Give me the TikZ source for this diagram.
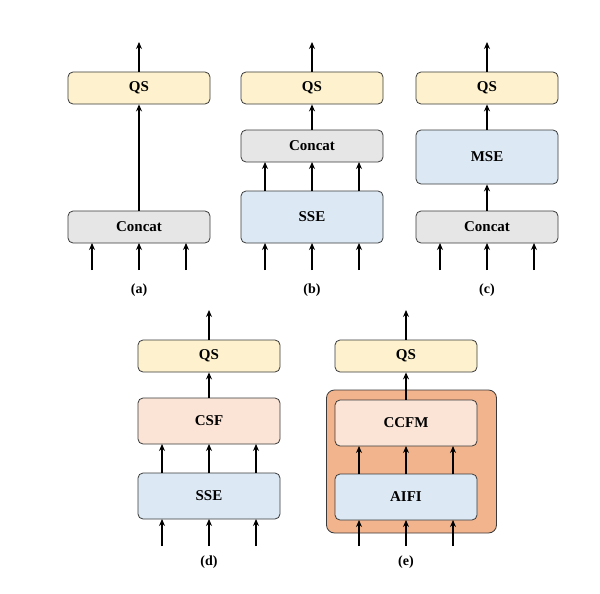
\documentclass[tikz,border=0pt]{standalone}
\usepackage{fontspec}
\setmainfont{Liberation Serif}
\usetikzlibrary{arrows.meta}
\definecolor{qsc}{HTML}{FDF2CD}
\definecolor{grc}{HTML}{E6E6E6}
\definecolor{blc}{HTML}{DCE8F4}
\definecolor{pkc}{HTML}{FBE4D6}
\definecolor{orc}{HTML}{F2B48C}
\definecolor{edc}{HTML}{3A3A3A}
\begin{document}
\begin{tikzpicture}[x=1pt,y=-1pt,
 box/.style={draw=edc,line width=0.8pt,rounded corners=5pt,minimum width=142pt,inner sep=0pt,font=\bfseries\fontsize{15}{15}\selectfont},
 ar/.style={-{Stealth[length=7pt,width=6pt]},line width=1.1pt,black},
 lab/.style={font=\bfseries\fontsize{14}{14}\selectfont}]
\useasboundingbox (0,0) rectangle (600,594);
% (a)
\node[box,fill=qsc,minimum height=32pt] (aq) at (139,88) {QS};
\node[box,fill=grc,minimum height=32pt] (ac) at (139,227) {Concat};
\coordinate (at) at (139,42);
\draw[ar] (ac) -- (aq); \draw[ar] (aq) -- (at);
\foreach \i/\x in {1/92,2/139,3/186}{\coordinate (ab\i) at (\x,270); \draw[ar] (ab\i) -- (\x,243);}
\node[lab] (al) at (139,290) {(a)};
% (b)
\node[box,fill=qsc,minimum height=32pt] (bq) at (312,88) {QS};
\node[box,fill=grc,minimum height=32pt] (bc) at (312,146) {Concat};
\node[box,fill=blc,minimum height=52pt] (bs) at (312,217) {SSE};
\coordinate (bt) at (312,42);
\draw[ar] (bc) -- (bq); \draw[ar] (bq) -- (bt);
\foreach \i/\x in {1/265,2/312,3/359}{\coordinate (bb\i) at (\x,270); \draw[ar] (bb\i) -- (\x,243); \draw[ar] (\x,191) -- (\x,162);}
\node[lab] (bl) at (312,290) {(b)};
% (c)
\node[box,fill=qsc,minimum height=32pt] (cq) at (487,88) {QS};
\node[box,fill=blc,minimum height=54pt] (cm) at (487,157) {MSE};
\node[box,fill=grc,minimum height=32pt] (cc) at (487,227) {Concat};
\coordinate (ct) at (487,42);
\draw[ar] (cc) -- (cm); \draw[ar] (cm) -- (cq); \draw[ar] (cq) -- (ct);
\foreach \i/\x in {1/440,2/487,3/534}{\coordinate (cb\i) at (\x,270); \draw[ar] (cb\i) -- (\x,243);}
\node[lab] (cl) at (487,290) {(c)};
% (d)
\node[box,fill=qsc,minimum height=32pt] (dq) at (209,356) {QS};
\node[box,fill=pkc,minimum height=46pt] (dc) at (209,421) {CSF};
\node[box,fill=blc,minimum height=46pt] (ds) at (209,496) {SSE};
\coordinate (dt) at (209,310);
\draw[ar] (dc) -- (dq); \draw[ar] (dq) -- (dt);
\foreach \i/\x in {1/162,2/209,3/256}{\coordinate (db\i) at (\x,546); \draw[ar] (db\i) -- (\x,519); \draw[ar] (\x,473) -- (\x,444);}
\node[lab] (dl) at (209,562) {(d)};
% (e)
\node[draw=edc,line width=0.8pt,rounded corners=8pt,fill=orc,minimum width=170pt,minimum height=143pt] (eo) at (411.5,461.5) {};
\node[box,fill=qsc,minimum height=32pt] (eq) at (406,356) {QS};
\node[box,fill=pkc,minimum height=46pt] (ec) at (406,423) {CCFM};
\node[box,fill=blc,minimum height=46pt] (ea) at (406,497) {AIFI};
\coordinate (et) at (406,310);
\draw[ar] (ec) -- (eq); \draw[ar] (eq) -- (et);
\foreach \i/\x in {1/359,2/406,3/453}{\coordinate (eb\i) at (\x,546); \draw[ar] (eb\i) -- (\x,520); \draw[ar] (\x,474) -- (\x,446);}
\node[lab] (el) at (406,562) {(e)};
\end{tikzpicture}
\end{document}
